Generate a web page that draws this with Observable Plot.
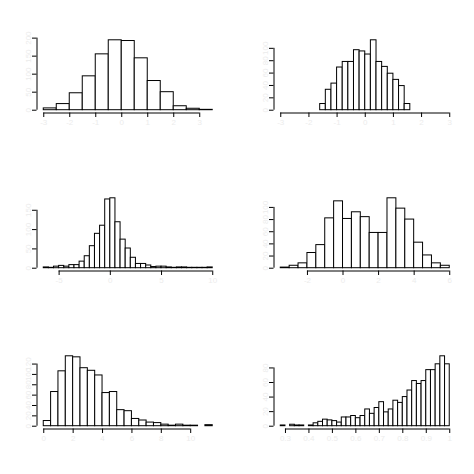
<!DOCTYPE html>
<html><head><meta charset="utf-8">
<script src="https://cdn.jsdelivr.net/npm/d3@7"></script>
<script src="https://cdn.jsdelivr.net/npm/@observablehq/plot@0.6"></script>
<style>
body{margin:0;background:#fff}
#chart{position:relative;width:474px;height:474px;overflow:hidden}
#chart svg{position:absolute}
</style>
</head><body><div id="chart"></div>
<script>
// Panel 1: normal-like, breaks -3..3.5 by 0.5
const p1Counts = [5,17,47,94,155,194,192,144,81,50,11,4,1];
const p1Start = -3, p1Bin = 0.5, p1Xlim = [-3, 3.5];
const p1XTicks = [-3,-2,-1,0,1,2,3];
const p1YTicks = [0,50,100,150,200];

// Panel 2: bounded, breaks -1.6..1.6 by 0.2, xlim -3..3
const p2Counts = [10,33,43,69,78,78,97,95,90,113,78,70,59,49,39,10];
const p2Start = -1.6, p2Bin = 0.2, p2Xlim = [-3, 3];
const p2XTicks = [-3,-2,-1,0,1,2,3];
const p2YTicks = [0,20,40,60,80,100];

// Panel 3: heavy tails, breaks -6.5..10 by 0.5
const p3Counts = [2,1,4,6,4,8,8,17,31,57,89,110,178,181,119,74,51,27,11,11,7,3,4,4,2,1,2,2,1,1,1,1,2];
const p3Start = -6.5, p3Bin = 0.5, p3Xlim = [-6.5, 10];
const p3XTicks = [-5,0,5,10];
const p3YTicks = [0,50,100,150];

// Panel 4: bimodal, breaks -3.5..6 by 0.5
const p4Counts = [1,4,8,25,38,82,110,81,92,84,58,58,115,98,80,42,21,8,4];
const p4Start = -3.5, p4Bin = 0.5, p4Xlim = [-3.5, 6];
const p4XTicks = [-2,0,2,4,6];
const p4YTicks = [0,20,40,60,80,100];

// Panel 5: right skewed, breaks 0..11.5 by 0.5
const p5Counts = [10,66,106,135,133,112,107,98,64,66,31,29,14,11,7,6,3,1,3,1,1,0,2];
const p5Start = 0, p5Bin = 0.5, p5Xlim = [0, 11.5];
const p5XTicks = [0,2,4,6,8,10];
const p5YTicks = [0,20,40,60,80,100,120];

// Panel 6: left skewed, breaks 0.28..1.0 by 0.02
const p6Counts = [1,0,2,1,1,0,1,4,6,9,8,7,5,12,12,14,11,14,23,17,25,33,19,23,35,32,40,49,62,58,62,77,77,85,96,85];
const p6Start = 0.28, p6Bin = 0.02, p6Xlim = [0.28, 1.0];
const p6XTicks = [0.3,0.4,0.5,0.6,0.7,0.8,0.9,1.0];
const p6YTicks = [0,20,40,60,80];

const panels = [
  {counts:p1Counts, start:p1Start, bin:p1Bin, xlim:p1Xlim, xt:p1XTicks, yt:p1YTicks},
  {counts:p2Counts, start:p2Start, bin:p2Bin, xlim:p2Xlim, xt:p2XTicks, yt:p2YTicks},
  {counts:p3Counts, start:p3Start, bin:p3Bin, xlim:p3Xlim, xt:p3XTicks, yt:p3YTicks},
  {counts:p4Counts, start:p4Start, bin:p4Bin, xlim:p4Xlim, xt:p4XTicks, yt:p4YTicks},
  {counts:p5Counts, start:p5Start, bin:p5Bin, xlim:p5Xlim, xt:p5XTicks, yt:p5YTicks},
  {counts:p6Counts, start:p6Start, bin:p6Bin, xlim:p6Xlim, xt:p6XTicks, yt:p6YTicks}
];

const W = 237, H = 158;
const labelColor = "#ececec";
const chart = document.getElementById("chart");

panels.forEach((p, k) => {
  const rows = p.counts.map((c, i) => ({
    x1: +(p.start + i * p.bin).toFixed(4),
    x2: +(p.start + (i + 1) * p.bin).toFixed(4),
    count: c
  }));
  const ext = (p.xlim[1] - p.xlim[0]) * 0.04;
  const xDom = [p.xlim[0] - ext, p.xlim[1] + ext];
  const ymax = d3.max(p.counts);
  const yDom = [-0.04 * ymax, 1.04 * ymax];
  const svg = Plot.plot({
    width: W, height: H,
    marginLeft: 36.5, marginRight: 18, marginTop: 37, marginBottom: 45.5,
    style: {background: "transparent", fontFamily: "Liberation Sans, Arial, sans-serif", fontSize: "8px", overflow: "visible"},
    x: {domain: xDom, label: null},
    y: {domain: yDom, label: null},
    marks: [
      Plot.rectY(rows, {x1: "x1", x2: "x2", y: "count", fill: "white", stroke: "black", strokeWidth: 1}),
      Plot.ruleY([yDom[0]], {x1: p.xt[0], x2: p.xt[p.xt.length - 1], stroke: "black"}),
      Plot.ruleX([xDom[0]], {y1: p.yt[0], y2: p.yt[p.yt.length - 1], stroke: "black"}),
      Plot.axisX(p.xt, {anchor: "bottom", tickSize: 4.5, tickPadding: 2, stroke: "black", color: labelColor, label: null, tickFormat: d => String(d)}),
      Plot.axisY(p.yt, {anchor: "left", tickSize: 4.5, tickPadding: 2, stroke: "black", color: labelColor, label: null, tickRotate: -90, tickFormat: d => String(d)})
    ]
  });
  svg.style.left = ((k % 2) * W) + "px";
  svg.style.top = (Math.floor(k / 2) * H) + "px";
  chart.appendChild(svg);
});
</script>
</body></html>
